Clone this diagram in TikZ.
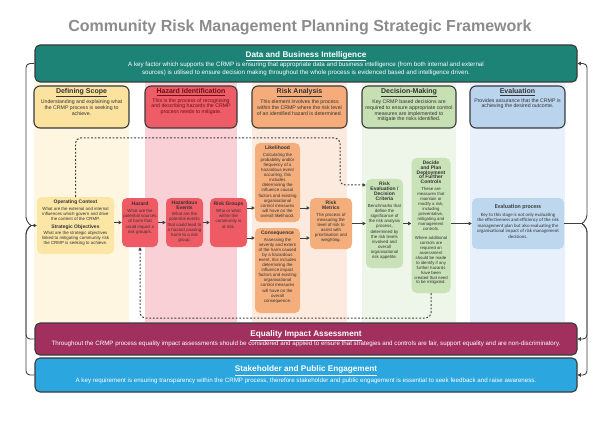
\documentclass[tikz,border=0pt]{standalone}
\usepackage{fontspec}
\setmainfont{Liberation Sans}
\newfontfamily\carlito{Carlito}
\usetikzlibrary{arrows.meta}
\definecolor{teal1}{HTML}{1D8376}
\definecolor{eqc}{HTML}{A2305F}
\definecolor{stc}{HTML}{2CA6DF}
\definecolor{hdrline}{HTML}{3A3A3A}
\definecolor{yhdr}{HTML}{FBE29E}
\definecolor{rhdr}{HTML}{EE5D67}
\definecolor{ohdr}{HTML}{F5AC7A}
\definecolor{ghdr}{HTML}{C6DFB3}
\definecolor{bhdr}{HTML}{BAD4EE}
\definecolor{ybg}{HTML}{FEF6E1}
\definecolor{rbg}{HTML}{F9D0D5}
\definecolor{obg}{HTML}{FDEADF}
\definecolor{gbg}{HTML}{EEF5E9}
\definecolor{bbg}{HTML}{E8F1FB}
\definecolor{ybox}{HTML}{FBE6A6}
\definecolor{rbox}{HTML}{EE5B65}
\definecolor{obox}{HTML}{F4AE7C}
\definecolor{gbox}{HTML}{CAE2B8}
\definecolor{bbox}{HTML}{BDD7EF}
\definecolor{arrc}{HTML}{3F3F3F}
\definecolor{titc}{HTML}{8C8C8C}
\definecolor{txtc}{HTML}{333333}
\definecolor{hazc}{HTML}{6E1016}
\newcommand\myboxtitle[1]{{\fontsize{5}{5.5}\selectfont\bfseries #1}}
\newcommand\myhdrtitle[1]{{\fontsize{7}{8}\selectfont\bfseries\underline{#1}}}
\newcommand\mybantitle[1]{{\fontsize{8.2}{9.5}\selectfont\bfseries\underline{#1}}}
\begin{document}
\begin{tikzpicture}[x=1pt,y=-1pt,
  banner/.style={draw=hdrline, line width=1.1pt, rounded corners=5pt, inner sep=0pt, minimum width=542pt},
  hdr/.style={draw=hdrline, line width=1.1pt, rounded corners=6pt, inner sep=0pt, minimum height=42pt},
  colbg/.style={inner sep=0pt, minimum height=240pt},
  cbox/.style={rounded corners=5pt, inner sep=0pt},
  txt/.style={align=center, inner sep=0pt, font=\fontsize{4.4}{5.1}\selectfont, text=txtc, anchor=north},
  htxt/.style={align=center, inner sep=0pt, font=\fontsize{5.2}{5.8}\selectfont, text=txtc, anchor=north},
  btxt/.style={align=center, inner sep=0pt, text=white, font=\fontsize{6.2}{8}\selectfont},
  arr/.style={draw=arrc, line width=0.9pt, -{Triangle[length=3.2pt,width=3.4pt]}},
  dasharr/.style={draw=arrc, line width=1pt, dash pattern=on 1.8pt off 1.8pt, rounded corners=5pt, -{Triangle[length=3.2pt,width=3.4pt]}},
  brk/.style={draw=arrc, line width=0.9pt, rounded corners=4pt}
]
\useasboundingbox (0,0) rectangle (600,425);
\fill[white] (0,0) rectangle (600,425);

% title
\node[text=titc, font=\fontsize{16}{19}\selectfont\bfseries] (title) at (300,27) {Community Risk Management Planning Strategic Framework};

% column backgrounds
\node[colbg, fill=ybg, minimum width=95pt] (cScope) at (81.5,202) {};
\node[colbg, fill=rbg, minimum width=92pt] (cHaz) at (191,202) {};
\node[colbg, fill=obg, minimum width=95pt] (cRisk) at (299.5,202) {};
\node[colbg, fill=gbg, minimum width=94pt] (cDec) at (409,202) {};
\node[colbg, fill=bbg, minimum width=95pt] (cEval) at (517.5,202) {};

% banners
\node[banner, fill=teal1, minimum height=37pt] (bData) at (306,63.5) {};
\node[btxt] (tData) at (bData) {\mybantitle{Data and Business Intelligence}\\[0pt]
A key factor which supports the CRMP is ensuring that appropriate data and business intelligence (from both internal and external\\
sources) is utilised to ensure decision making throughout the whole process is evidenced based and intelligence driven.};

% headers
\node[hdr, fill=yhdr, minimum width=95pt] (hScope) at (81.5,107) {};
\node[hdr, fill=rhdr, minimum width=92pt] (hHaz) at (191,107) {};
\node[hdr, fill=ohdr, minimum width=95pt] (hRisk) at (299.5,107) {};
\node[hdr, fill=ghdr, minimum width=94pt] (hDec) at (409,107) {};
\node[hdr, fill=bhdr, minimum width=95pt] (hEval) at (517.5,107) {};
\node[htxt] (tScope) at ([yshift=-3pt]hScope.north) {\myhdrtitle{Defining Scope}\\[1.5pt]Understanding and explaining what\\the CRMP process is seeking to\\achieve.};
\node[htxt, text=hazc] (tHaz) at ([yshift=-3pt]hHaz.north) {\myhdrtitle{Hazard Identification}\\[1.5pt]This is the process of recognising\\and describing hazards the CRMP\\process needs to mitigate.};
\node[htxt] (tRisk) at ([yshift=-3pt]hRisk.north) {\myhdrtitle{Risk Analysis}\\[1.5pt]This element involves the process\\within the CRMP where the risk level\\of an identified hazard is determined.};
\node[htxt] (tDec) at ([yshift=-3pt]hDec.north) {\myhdrtitle{Decision-Making}\\[1.5pt]Key CRMP based decisions are\\required to ensure appropriate control\\measures are implemented to\\mitigate the risks identified.};
\node[htxt] (tEval) at ([yshift=-3pt]hEval.north) {\myhdrtitle{Evaluation}\\[1.5pt]Provides assurance that the CRMP is\\achieving the desired outcome.};

% boxes
\node[cbox, fill=ybox, minimum width=77pt, minimum height=57pt] (opctx) at (75.5,225.5) {};
\node[txt] (tOp) at ([yshift=-3pt]opctx.north) {\myboxtitle{Operating Context}\\[1.5pt]What are the external and internal\\influences which govern and drive\\the content of the CRMP.\\[2.5pt]\myboxtitle{Strategic Objectives}\\[1.5pt]What are the strategic objectives\\linked to mitigating community risk\\the CRMP is seeking to achieve.};

\node[cbox, fill=rbox, minimum width=36pt, minimum height=49pt] (hazard) at (140,222.5) {};
\node[txt] (tHz) at ([yshift=-4pt]hazard.north) {\myboxtitle{Hazard}\\[2pt]What are the\\potential sources\\of harm that\\could impact a\\risk group/s.};
\node[cbox, fill=rbox, minimum width=37pt, minimum height=49pt] (hevents) at (184.5,222.5) {};
\node[txt] (tHe) at ([yshift=-3pt]hevents.north) {\myboxtitle{Hazardous}\\\myboxtitle{Events}\\[1pt]What are the\\potential events\\that could lead to\\a hazard causing\\harm to a risk\\group.};
\node[cbox, fill=rbox, minimum width=37pt, minimum height=49pt] (rgroups) at (228.5,222.5) {};
\node[txt] (tRg) at ([yshift=-4pt]rgroups.north) {\myboxtitle{Risk Groups}\\[2pt]Who or what\\within the\\community is\\at risk.};

\node[cbox, fill=obox, minimum width=45pt, minimum height=79pt] (likeli) at (277.5,182.5) {};
\node[txt] (tLk) at ([yshift=-3pt]likeli.north) {\myboxtitle{Likelihood}\\[1.5pt]Calculating the\\probability and/or\\frequency of a\\hazardous event\\occurring, this\\includes\\determining the\\influence causal\\factors and existing\\organisational\\control measures\\will have on the\\overall likelihood.};
\node[cbox, fill=obox, minimum width=45pt, minimum height=85pt] (conseq) at (277.5,270.5) {};
\node[txt] (tCq) at ([yshift=-3pt]conseq.north) {\myboxtitle{Consequence}\\[1.5pt]Assessing the\\severity and extent\\of the harm caused\\by a hazardous\\event, this includes\\determining the\\influence impact\\factors and existing\\organisational\\control measures\\will have on the\\overall\\consequence.};
\node[cbox, fill=obox, minimum width=42pt, minimum height=51pt] (rmetrics) at (331,223.5) {};
\node[txt] (tRm) at ([yshift=-3pt]rmetrics.north) {\myboxtitle{Risk}\\\myboxtitle{Metrics}\\[1.5pt]The process of\\measuring the\\level of risk to\\assist with\\prioritisation and\\weighting.};

\node[cbox, fill=gbox, minimum width=37pt, minimum height=89pt] (reval) at (384.5,223.5) {};
\node[txt] (tRe) at ([yshift=-3pt]reval.north) {\myboxtitle{Risk}\\\myboxtitle{Evaluation /}\\\myboxtitle{Decision}\\\myboxtitle{Criteria}\\[1.5pt]Benchmarks that\\define the\\significance of\\the risk analysis\\process,\\determined by\\the risk levels\\involved and\\overall\\organisational\\risk appetite.};
\node[cbox, fill=gbox, minimum width=39pt, minimum height=135pt] (decide) at (431,225.5) {};
\node[txt, font=\fontsize{4.3}{4.95}\selectfont] (tDp) at ([yshift=-2.5pt]decide.north) {\myboxtitle{Decide}\\\myboxtitle{and Plan}\\\myboxtitle{Deployment}\\\myboxtitle{of Further}\\\myboxtitle{Controls}\\[2pt]These are\\measures that\\maintain or\\modify a risk,\\including\\preventative,\\mitigating and\\management\\controls.\\[4pt]Where additional\\controls are\\required an\\assessment\\should be made\\to identify if any\\further hazards\\have been\\created that need\\to be mitigated.};

\node[cbox, fill=bbox, minimum width=92pt, minimum height=51pt] (evproc) at (518,223.5) {};
\node[txt, font=\carlito\fontsize{4.8}{5.5}\selectfont, text=txtc] (tEp) at ([yshift=-6pt]evproc.north) {{\fontsize{6}{6.5}\selectfont\bfseries\color{darkgray}Evaluation process}\\[2.5pt]Key to this stage is not only evaluating\\the effectiveness and efficiency of the risk\\management plan but also evaluating the\\organisational impact of risk management\\decisions.};

% bottom banners
\node[banner, fill=eqc, minimum height=32pt] (bEq) at (306,339) {};
\node[btxt] (tEq) at (bEq) {\mybantitle{Equality Impact Assessment}\\[-0.5pt]
Throughout the CRMP process equality impact assessments should be considered and applied to ensure that strategies and controls are fair, support equality and are non-discriminatory.};
\node[banner, fill=stc, minimum height=34pt] (bSt) at (306,375) {};
\node[btxt] (tSt) at (bSt) {\mybantitle{Stakeholder and Public Engagement}\\[1.5pt]
A key requirement is ensuring transparency within the CRMP process, therefore stakeholder and public engagement is essential to seek feedback and raise awareness.};

% main flow arrows
\coordinate (ly) at (0,208);
\coordinate (cy) at (0,238);
\draw[arr] (opctx.east |- hazard.west) -- (hazard.west);
\draw[arr] (hazard.east) -- (hevents.west);
\draw[arr] (hevents.east) -- (rgroups.west);
\draw[arr] (rgroups.east |- ly) -- (likeli.west |- ly);
\draw[arr] (rgroups.east |- cy) -- (conseq.west |- cy);
\draw[arr] (likeli.east |- ly) -- (rmetrics.west |- ly);
\draw[arr] (conseq.east |- cy) -- (rmetrics.west |- cy);
\draw[arr] (rmetrics.east) -- (reval.west);
\draw[arr] (reval.east) -- (decide.west |- reval.east);
\draw[arr] (decide.east |- evproc.west) -- (evproc.west);

% dashed loops
\coordinate (d1) at (75.5,138);
\coordinate (d2) at (340,138);
\coordinate (d3) at (340,185);
\draw[dasharr] (opctx.north) -- (d1) -- (d2) -- (d3) -- (reval.west |- d3);
\coordinate (d5) at (431,318);
\coordinate (d6) at (140,318);
\draw[dasharr] (decide.south) -- (d5) -- (d6) -- (hazard.south);

% left bracket
\coordinate (lj) at (31,225.5);
\draw[brk] (bData.west) -- (26,63.5) -- (26,221) -- (lj);
\draw[brk] (bEq.west) -- (26,339) -- (26,230) -- (lj);
\draw[brk] (bSt.west) -- (26,375) -- (26,230) -- (lj);
\draw[arr] (lj) -- (opctx.west);

% right bracket
\coordinate (rj) at (582,223.5);
\draw[brk] (evproc.east) -- (rj);
\draw[brk, -{Triangle[length=3.2pt,width=3.4pt]}] (rj) -- (587,219) -- (587,63.5) -- (bData.east);
\draw[brk, -{Triangle[length=3.2pt,width=3.4pt]}] (rj) -- (587,228) -- (587,339) -- (bEq.east);
\draw[brk, -{Triangle[length=3.2pt,width=3.4pt]}] (rj) -- (587,228) -- (587,375) -- (bSt.east);
\end{tikzpicture}
\end{document}
